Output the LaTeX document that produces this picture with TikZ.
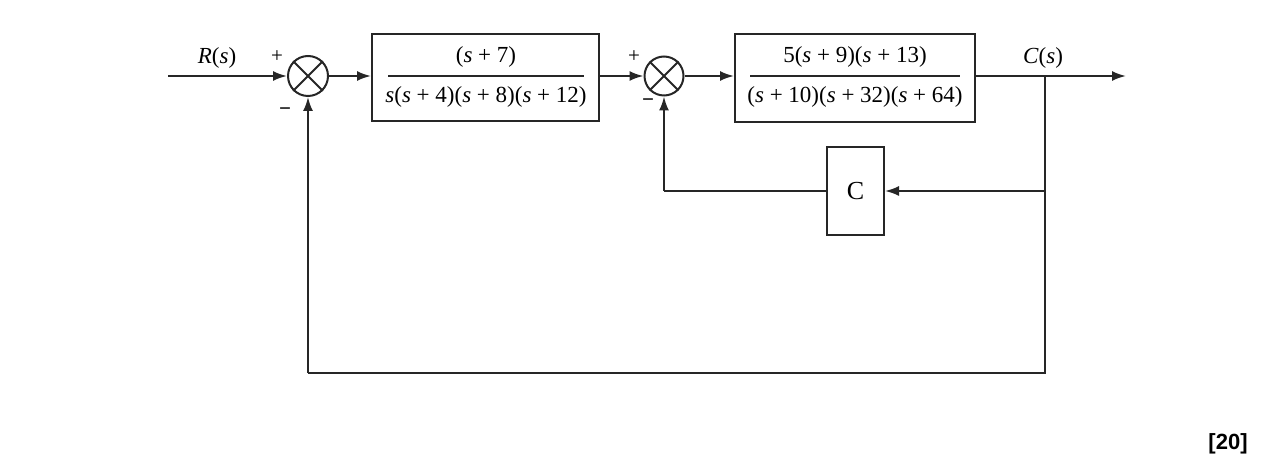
\documentclass[tikz,border=0pt]{standalone}
\usepackage{fontspec}
\setmainfont{Liberation Serif}
\newfontfamily\labelsans{Liberation Sans}
\usetikzlibrary{arrows.meta}
\begin{document}
\begin{tikzpicture}[x=0.5pt,y=-0.5pt,
  line width=1pt, draw=black!85,
  sig/.style={-{Latex[length=7pt,width=5pt]}},
  sumnode/.style={circle,draw,line width=1pt,minimum size=20pt,inner sep=0pt},
  blockbox/.style={draw,line width=1pt,inner sep=0pt},
  txt/.style={font=\fontsize{11.5pt}{13pt}\selectfont,inner sep=0pt},
  sgn/.style={font=\fontsize{10.5pt}{11pt}\selectfont,inner sep=0pt}]
\useasboundingbox (0,0) rectangle (1283,464);
% summing junctions
\node[sumnode] (s1) at (308,76) {};
\draw (s1.north east) -- (s1.south west) (s1.north west) -- (s1.south east);
\node[sumnode,minimum size=19.5pt] (s2) at (664,76) {};
\draw (s2.north east) -- (s2.south west) (s2.north west) -- (s2.south east);
% blocks
\node[blockbox,minimum width=113.5pt,minimum height=43.5pt] (g1) at (485.5,77.5) {};
\node[blockbox,minimum width=120pt,minimum height=44pt] (g2) at (855,78) {};
\node[blockbox,minimum width=28.5pt,minimum height=44pt,font=\fontsize{13pt}{14pt}\selectfont] (h) at (855.5,191) {C};
% fractions
\node[txt] (n1) at (486,57) {(\textit{s} + 7)};
\node[txt] (d1) at (486,97) {\textit{s}(\textit{s} + 4)(\textit{s} + 8)(\textit{s} + 12)};
\draw[line width=0.8pt] (388,76) -- (584,76);
\node[txt] (n2) at (855,57) {5(\textit{s} + 9)(\textit{s} + 13)};
\node[txt] (d2) at (855,97) {(\textit{s} + 10)(\textit{s} + 32)(\textit{s} + 64)};
\draw[line width=0.8pt] (750,76) -- (960,76);
% labels
\node[txt] (rl) at (217,58) {\textit{R}(\textit{s})};
\node[txt] (cl) at (1043,58) {\textit{C}(\textit{s})};
\node[sgn] (p1) at (277,57) {+};
\node[sgn] (m1) at (285,112) {\textbf{−}};
\node[sgn] (p2) at (634,57) {+};
\node[sgn] (m2) at (648,103) {\textbf{−}};
\node[font=\labelsans\bfseries\fontsize{11pt}{12pt}\selectfont,inner sep=0pt] (mk) at (1228,444) {[20]};
% coordinates
\coordinate (in) at (168,76);
\coordinate (out) at (1126,76);
\coordinate (po) at (1045,76);
\coordinate (pc) at (1045,191);
\coordinate (pb) at (1045,373);
\coordinate (lb) at (308,373);
\coordinate (lc) at (664,191);
% connectors
\draw[sig] (in) -- (s1.west);
\draw[sig] (s1.east) -- (s1.east -| g1.west);
\draw[sig] (g1.east |- s2.west) -- (s2.west);
\draw[sig] (s2.east) -- (s2.east -| g2.west);
\draw[sig] (g2.east |- out) -- (out);
\draw[sig] (po) -- (pc) -- (h.east);
\draw (pc) -- (pb) -- (lb);
\draw[sig] (lb) -- (s1.south);
\draw (h.west) -- (lc);
\draw[sig] (lc) -- (s2.south);
\end{tikzpicture}
\end{document}
